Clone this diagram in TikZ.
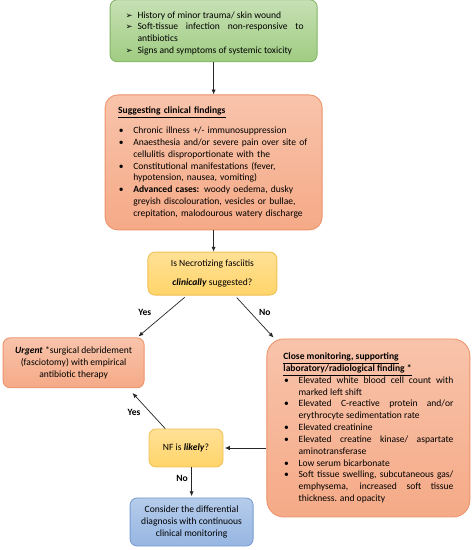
\documentclass[tikz,border=0pt]{standalone}
\usepackage{fontspec}
\setmainfont{Carlito}
\newfontfamily\symfont{DejaVu Sans}
\usepackage{enumitem}
\usepackage{tikz}
\usetikzlibrary{arrows.meta}
\definecolor{nfgreen}{RGB}{160, 204, 130}
\definecolor{nfgreenline}{RGB}{130, 180, 100}
\definecolor{nforange}{RGB}{245, 170, 135}
\definecolor{nforangeline}{RGB}{236, 146, 106}
\definecolor{nfyellow}{RGB}{255, 212, 105}
\definecolor{nfyellowline}{RGB}{240, 192, 85}
\definecolor{nfblue}{RGB}{150, 182, 226}
\definecolor{nfblueline}{RGB}{120, 155, 208}
\newcommand{\nftext}{\fontsize{6.8}{8.4}\selectfont}
\newlist{nfitems}{itemize}{1}
\setlist[nfitems]{label=\textbullet, nosep, leftmargin=0.38cm, labelsep=0.24cm}
\newlist{nfarrows}{itemize}{1}
\setlist[nfarrows]{label={\symfont\fontsize{6}{6}\selectfont ➢}, nosep, leftmargin=0.35cm, labelsep=0.12cm}

\begin{document}
\begin{tikzpicture}[
  box/.style={rectangle, draw, line width=0.6pt, rounded corners=5pt, inner xsep=0pt, inner ysep=2pt, font=\nftext},
  greenbox/.style={box, draw=nfgreenline, top color=nfgreen!60!white, bottom color=nfgreen},
  orangebox/.style={box, draw=nforangeline, top color=nforange!70!white, bottom color=nforange},
  yellowbox/.style={box, draw=nfyellowline, top color=nfyellow!70!white, bottom color=nfyellow},
  bluebox/.style={box, draw=nfblueline, top color=nfblue!70!white, bottom color=nfblue},
  arr/.style={-{Latex[length=3.5pt,width=3pt]}, line width=0.5pt, black!85},
  lab/.style={font=\nftext\bfseries}
]
\useasboundingbox (0,0) rectangle (11.85,13.75);

% Boxes, top to bottom
\node[greenbox, minimum width=5.175cm, minimum height=1.55cm, text width=4.5cm, align=justify] (hist) at (5.34,12.98) {%
  \begin{nfarrows}
  \item History of minor trauma/ skin wound
  \item Soft-tissue infection non-responsive to\linebreak antibiotics
  \item Signs and symptoms of systemic toxicity
  \end{nfarrows}};
\node[orangebox, rounded corners=9pt, minimum width=5.425cm, minimum height=3.375cm, text width=4.775cm, align=left] (find) at (5.34,9.69) {%
  \underline{\textbf{Suggesting clinical findings}}\par\vspace{6pt}
  \begin{nfitems}
  \item Chronic illness +/- immunosuppression
  \item Anaesthesia and/or severe pain over site of\newline cellulitis disproportionate with the
  \item Constitutional manifestations (fever,\newline hypotension, nausea, vomiting)
  \item \textbf{Advanced cases:} woody oedema, dusky\newline greyish discolouration, vesicles or bullae,\newline crepitation, malodourous watery discharge
  \end{nfitems}};
\node[yellowbox, minimum width=3.225cm, minimum height=1.075cm, align=center, font=\fontsize{6.8}{13.5}\selectfont] (ques) at (5.31,6.91)
  {Is Necrotizing fasciitis\\\textbf{\textit{clinically}} suggested?};
\node[orangebox, minimum width=3.525cm, minimum height=1.25cm, align=center] (urg) at (1.84,4.68)
  {\textbf{\textit{Urgent}} *surgical debridement\\(fasciotomy) with empirical\\antibiotic therapy};
\node[orangebox, rounded corners=12pt, minimum width=5.075cm, minimum height=4.45cm, text width=4.25cm, align=justify] (mon) at (9.21,3.05) {%
  \underline{\textbf{Close monitoring, supporting}}\par
  \underline{\textbf{laboratory/radiological finding *}}
  \begin{nfitems}
  \item Elevated white blood cell count with\linebreak marked left shift
  \item Elevated C-reactive protein and/or\linebreak erythrocyte sedimentation rate
  \item Elevated creatinine
  \item Elevated creatine kinase/ aspartate\linebreak aminotransferase
  \item Low serum bicarbonate
  \item Soft tissue swelling, subcutaneous gas/\linebreak emphysema, increased soft tissue\linebreak thickness. and opacity
  \end{nfitems}};
\node[yellowbox, minimum width=1.85cm, minimum height=0.95cm, align=center] (likely) at (4.65,2.55)
  {NF is \textbf{\textit{likely}}?};
\node[bluebox, minimum width=3.075cm, minimum height=1.2cm, align=center] (diff) at (4.79,0.70)
  {Consider the differential\\diagnosis with continuous\\clinical monitoring};

% Connectors
\draw[arr] (hist) -- (find);
\draw[arr] (find.south) -- (find.south |- ques.north);
\draw[arr, shorten <=2pt, shorten >=1pt] ([xshift=-0.64cm]ques.south) -- ([xshift=-0.18cm]urg.north east);
\draw[arr, shorten <=2pt, shorten >=1pt] ([xshift=0.56cm]ques.south) -- ([xshift=0.2cm]mon.north west);
\draw[arr, shorten >=1pt] (likely.east -| mon.west) -- (likely.east);
\draw[arr] ([xshift=-0.52cm]likely.north) -- ([xshift=-0.3cm,yshift=-0.12cm]urg.south east);
\draw[arr, shorten >=1pt] (likely.south -| diff.north) -- (diff.north);

% Labels
\node[lab] (yesa) at (3.62,5.95) {Yes};
\node[lab] (noa) at (6.62,5.95) {No};
\node[lab] (yesb) at (3.35,3.43) {Yes};
\node[lab] (nob) at (4.55,1.80) {No};
\end{tikzpicture}
\end{document}
